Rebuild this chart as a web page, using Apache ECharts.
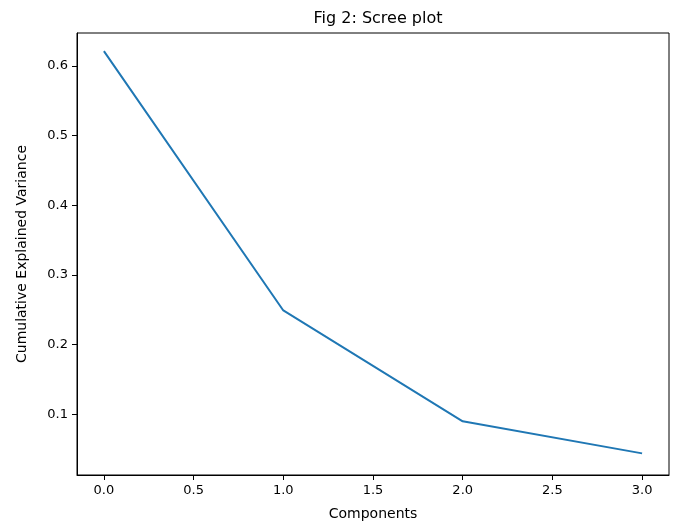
<!DOCTYPE html>
<html>
<head>
<meta charset="utf-8">
<script src="https://cdn.jsdelivr.net/npm/echarts@6/dist/echarts.min.js"></script>
<style>html,body{margin:0;padding:0;background:#fff}</style>
</head>
<body>
<div id="main" style="width:687px;height:531px"></div>
<script>
// data
const components = [0, 1, 2, 3]
const variance = [0.621, 0.249, 0.090, 0.044]
const xTicks = [0, 0.5, 1, 1.5, 2, 2.5, 3]
const yTicks = [0.1, 0.2, 0.3, 0.4, 0.5, 0.6]

var myChart = echarts.init(document.getElementById('main'))
const font = 'DejaVu Sans'
const option = {
  animation: false,
  title: {
    text: 'Fig 2: Scree plot',
    left: 373, top: 6, textAlign: 'center',
    textStyle: { fontFamily: font, fontSize: 16, fontWeight: 'normal', color: '#000' }
  },
  grid: { left: 77, right: 18, top: 33, bottom: 56 },
  xAxis: {
    type: 'value', min: -0.15, max: 3.15,
    name: 'Components', nameLocation: 'middle', nameGap: 32,
    nameTextStyle: { fontFamily: font, fontSize: 14, color: '#000' },
    splitLine: { show: false },
    axisLine: { onZero: false, lineStyle: { color: '#000' } },
    axisTick: { customValues: xTicks, length: 5, lineStyle: { color: '#000' } },
    axisLabel: { customValues: xTicks, formatter: v => v.toFixed(1), fontFamily: font, fontSize: 13, color: '#000', margin: 9 }
  },
  yAxis: {
    type: 'value', min: 0.013, max: 0.647,
    name: 'Cumulative Explained Variance', nameLocation: 'middle', nameGap: 48,
    nameTextStyle: { fontFamily: font, fontSize: 14, color: '#000' },
    splitLine: { show: false },
    axisLine: { show: true, onZero: false, lineStyle: { color: '#000' } },
    axisTick: { show: true, customValues: yTicks, length: 5, lineStyle: { color: '#000' } },
    axisLabel: { customValues: yTicks, formatter: v => v.toFixed(1), fontFamily: font, fontSize: 13, color: '#000', margin: 9 }
  },
  series: [{
    type: 'line',
    data: components.map((c, i) => [c, variance[i]]),
    showSymbol: false,
    lineStyle: { color: '#1f77b4', width: 2 }
  }],
  graphic: [{
    type: 'rect', shape: { x: 77, y: 33, width: 592, height: 442 },
    style: { fill: 'none', stroke: '#000', lineWidth: 1 }, silent: true
  }]
}
myChart.setOption(option)
</script>
</body>
</html>
